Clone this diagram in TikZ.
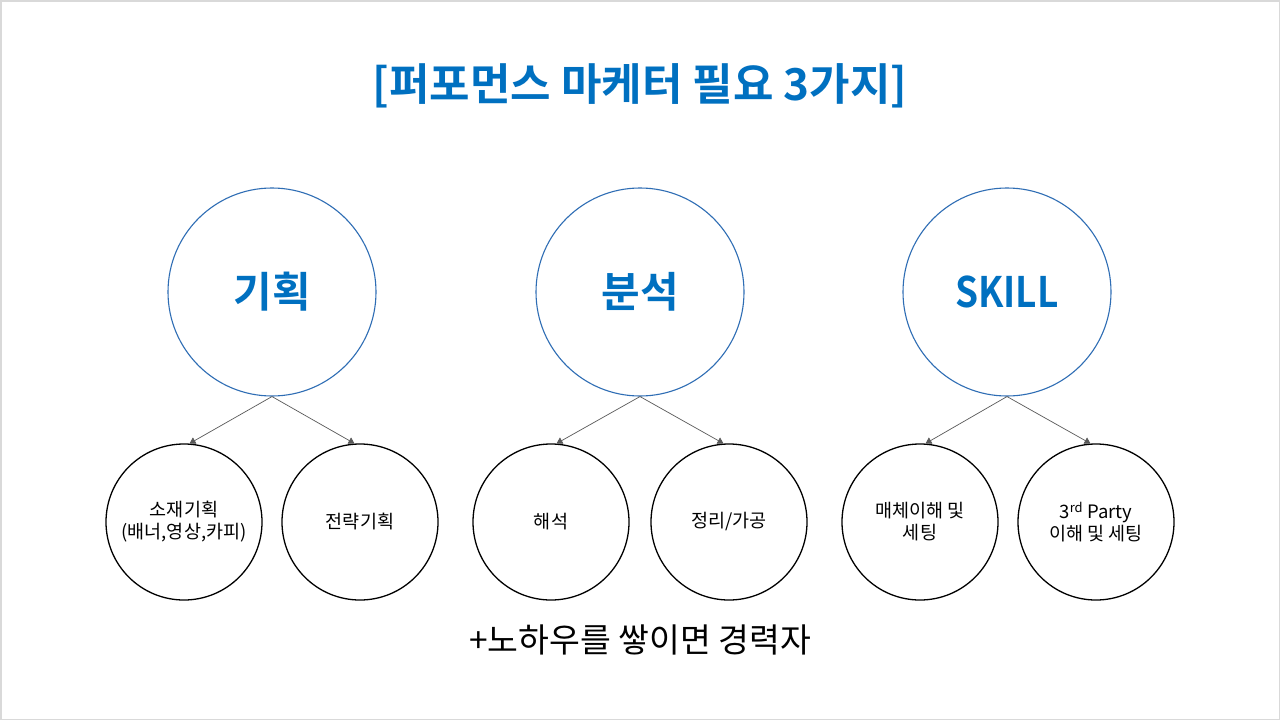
\documentclass[tikz,border=0pt]{standalone}
\usepackage{fontspec}
\setmainfont{Noto Sans CJK KR}
\newfontfamily\krb{Noto Sans CJK KR Bold}
\newfontfamily\krbn[FakeStretch=0.88]{Noto Sans CJK KR Bold}
\usetikzlibrary{arrows.meta}
\definecolor{tblue}{HTML}{0070C0}
\definecolor{cblue}{HTML}{2E6DB4}
\definecolor{lgray}{HTML}{D9D9D9}
\definecolor{cgray}{HTML}{595959}
\tikzset{
  bigc/.style={circle, draw=cblue, line width=1.1pt, minimum size=208pt, inner sep=0pt, text=tblue, font=\fontsize{42pt}{46pt}\selectfont\krb},
  smallc/.style={circle, draw=black, line width=1.3pt, minimum size=156pt, inner sep=0pt, align=center, font=\fontsize{18.5pt}{22pt}\selectfont},
  conn/.style={draw=cgray, line width=0.7pt, -{Triangle[length=6pt,width=7pt]}}
}
\begin{document}
\begin{tikzpicture}[x=1pt,y=-1pt]
\useasboundingbox (0,0) rectangle (1280,720);
\fill[white] (0,0) rectangle (1280,720);
\draw[lgray, line width=1.5pt] (0.75,0.75) rectangle (1279.25,719.25);
\node[text=tblue, font=\fontsize{44pt}{48pt}\selectfont\krb] (title) at (640,86) {[퍼포먼스 마케터 필요 3가지]};
\node[bigc] (b1) at (272,292) {기획};
\node[bigc] (b2) at (640,292) {분석};
\node[bigc] (b3) at (1007,292) {\krbn SKILL};
\node[smallc] (s1) at (184,522) {소재기획\\(배너,영상,카피)};
\node[smallc] (s2) at (360,522) {전략기획};
\node[smallc] (s3) at (551,522) {해석};
\node[smallc] (s4) at (729,522) {정리/가공};
\node[smallc] (s5) at (920,522) {매체이해 및\\세팅};
\node[smallc] (s6) at (1096,522) {3\textsuperscript{rd} Party\\이해 및 세팅};
\draw[conn] (b1.south) -- (s1.86);
\draw[conn] (b1.south) -- (s2.94);
\draw[conn] (b2.south) -- (s3.86);
\draw[conn] (b2.south) -- (s4.94);
\draw[conn] (b3.south) -- (s5.86);
\draw[conn] (b3.south) -- (s6.94);
\node[font=\fontsize{33.5pt}{38pt}\selectfont] (note) at (640,640) {+노하우를 쌓이면 경력자};
\end{tikzpicture}
\end{document}
